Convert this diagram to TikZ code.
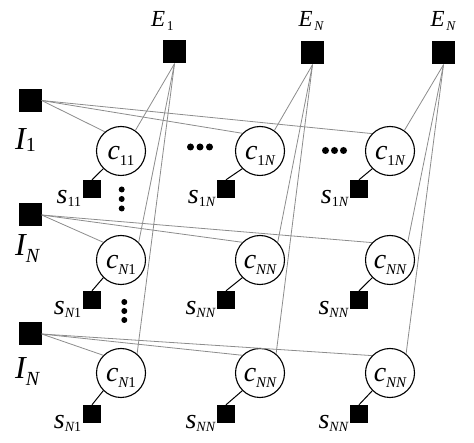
\documentclass[tikz,border=0pt]{standalone}
\usepackage{fontspec}
\setmainfont{Liberation Serif}
\newcommand\mylab[5]{{\fontsize{#1}{#1}\selectfont\itshape #2}\raisebox{-#4}{\fontsize{#3}{#3}\selectfont #5}}
\newcommand\itN{{\itshape N}}
\definecolor{linecol}{rgb}{0.55,0.55,0.55}
\begin{document}
\begin{tikzpicture}[x=1pt,y=-1pt,
  term/.style={rectangle,fill=black,inner sep=0pt,minimum size=23pt},
  sbox/.style={rectangle,fill=black,inner sep=0pt,minimum size=18pt},
  cnode/.style={circle,draw=black,fill=white,line width=1.1pt,minimum size=49pt,inner sep=0pt,text height=17pt,text depth=0pt},
  conn/.style={draw=linecol,line width=0.8pt},
  sconn/.style={draw=black,line width=1pt},
  hdot/.style={circle,fill=black,inner sep=0pt,minimum size=7pt},
  vdot/.style={circle,fill=black,inner sep=0pt,minimum size=6pt},
  lbl/.style={inner sep=0pt}]
\useasboundingbox (0,0) rectangle (474,443);
% terminals
\node[term] (E1) at (174.5,52) {};
\node[term] (E2) at (312.5,53) {};
\node[term] (E3) at (443.5,53) {};
\node[term] (I1) at (30,100.5) {};
\node[term] (I2) at (30,215) {};
\node[term] (I3) at (30,334) {};
% labels of terminals
\node[lbl,anchor=base west] (E1l) at (151,27) {\mylab{23pt}{E\kern1.5pt}{13.5pt}{4pt}{1}};
\node[lbl,anchor=base] (E2l) at (311,27) {\mylab{23pt}{E\kern1.5pt}{13.5pt}{4pt}{\itN}};
\node[lbl,anchor=base] (E3l) at (443,27) {\mylab{23pt}{E\kern1.5pt}{13.5pt}{4pt}{\itN}};
\node[lbl,anchor=base west] (I1l) at (15,150) {\mylab{32pt}{I}{20pt}{2pt}{1}};
\node[lbl,anchor=base west] (I2l) at (15,256) {\mylab{32pt}{I}{20pt}{7pt}{\itN}};
\node[lbl,anchor=base west] (I3l) at (15,379) {\mylab{32pt}{I}{20pt}{7pt}{\itN}};
% cells
\node[cnode] (c11) at (121,151) {\mylab{28pt}{c}{15pt}{6pt}{11}};
\node[cnode] (c12) at (260,151) {\mylab{28pt}{c}{15pt}{6pt}{1\itN}};
\node[cnode] (c13) at (390,151) {\mylab{28pt}{c}{15pt}{6pt}{1\itN}};
\node[cnode] (c21) at (121,260) {\mylab{28pt}{c}{15pt}{6pt}{\itN1}};
\node[cnode] (c22) at (260,260) {\mylab{28pt}{c}{15pt}{6pt}{\itN\itN}};
\node[cnode] (c23) at (390,260) {\mylab{28pt}{c}{15pt}{6pt}{\itN\itN}};
\node[cnode] (c31) at (121,373) {\mylab{28pt}{c}{15pt}{6pt}{\itN1}};
\node[cnode] (c32) at (260,373) {\mylab{28pt}{c}{15pt}{6pt}{\itN\itN}};
\node[cnode] (c33) at (390,373) {\mylab{28pt}{c}{15pt}{6pt}{\itN\itN}};
% sensors
\node[sbox] (s11) at (92,189) {};
\node[sbox] (s12) at (226,189) {};
\node[sbox] (s13) at (359,189) {};
\node[sbox] (s21) at (92,300) {};
\node[sbox] (s22) at (226,300) {};
\node[sbox] (s23) at (359,300) {};
\node[sbox] (s31) at (92,414) {};
\node[sbox] (s32) at (226,414) {};
\node[sbox] (s33) at (359,414) {};
\node[lbl,anchor=base east] (s11l) at ([xshift=-1.5pt,yshift=-14.5pt]s11.west) {\mylab{28pt}{s}{14pt}{3pt}{11}};
\node[lbl,anchor=base east] (s12l) at ([xshift=-1.5pt,yshift=-14.5pt]s12.west) {\mylab{28pt}{s}{14pt}{3pt}{1\itN}};
\node[lbl,anchor=base east] (s13l) at ([xshift=-1.5pt,yshift=-14.5pt]s13.west) {\mylab{28pt}{s}{14pt}{3pt}{1\itN}};
\node[lbl,anchor=base east] (s21l) at ([xshift=-1.5pt,yshift=-14.5pt]s21.west) {\mylab{28pt}{s}{14pt}{3pt}{\itN1}};
\node[lbl,anchor=base east] (s22l) at ([xshift=-1.5pt,yshift=-14.5pt]s22.west) {\mylab{28pt}{s}{14pt}{3pt}{\itN\itN}};
\node[lbl,anchor=base east] (s23l) at ([xshift=-1.5pt,yshift=-14.5pt]s23.west) {\mylab{28pt}{s}{14pt}{3pt}{\itN\itN}};
\node[lbl,anchor=base east] (s31l) at ([xshift=-1.5pt,yshift=-14.5pt]s31.west) {\mylab{28pt}{s}{14pt}{3pt}{\itN1}};
\node[lbl,anchor=base east] (s32l) at ([xshift=-1.5pt,yshift=-14.5pt]s32.west) {\mylab{28pt}{s}{14pt}{3pt}{\itN\itN}};
\node[lbl,anchor=base east] (s33l) at ([xshift=-1.5pt,yshift=-14.5pt]s33.west) {\mylab{28pt}{s}{14pt}{3pt}{\itN\itN}};
% ellipsis dots
\node[hdot] (ha1) at (190.5,147) {};
\node[hdot] (ha2) at (200,147) {};
\node[hdot] (ha3) at (209.5,147) {};
\node[hdot] (hb1) at (325.5,150.5) {};
\node[hdot] (hb2) at (334.5,150.5) {};
\node[hdot] (hb3) at (343.5,150.5) {};
\node[vdot] (va1) at (121.7,189.5) {};
\node[vdot] (va2) at (121.7,199) {};
\node[vdot] (va3) at (121.7,208.5) {};
\node[vdot] (vb1) at (124.3,302) {};
\node[vdot] (vb2) at (124.3,311) {};
\node[vdot] (vb3) at (124.3,320) {};
% E connectors
\draw[conn] (E1.south) -- (c11.55);
\draw[conn] (E1.south) -- (c21.45);
\draw[conn] (E1.south) -- (c31.50);
\draw[conn] (E2.south) -- (c12.55);
\draw[conn] (E2.south) -- (c22.45);
\draw[conn] (E2.south) -- (c32.50);
\draw[conn] (E3.south) -- (c13.55);
\draw[conn] (E3.south) -- (c23.45);
\draw[conn] (E3.south) -- (c33.50);
% I connectors
\draw[conn] (I1.east) -- (c11.130);
\draw[conn] (I1.east) -- (c12.135);
\draw[conn] (I1.east) -- (c13.136);
\draw[conn] (I2.east) -- (c21.135);
\draw[conn] (I2.east) -- (c22.135);
\draw[conn] (I2.east) -- (c23.136);
\draw[conn] (I3.east) -- (c31.135);
\draw[conn] (I3.east) -- (c32.135);
\draw[conn] (I3.east) -- (c33.136);
% cell to sensor
\foreach \r in {1,2,3}{\foreach \c in {1,2,3}{\draw[sconn] (c\r\c.225) -- (s\r\c.north);}}
\end{tikzpicture}
\end{document}
